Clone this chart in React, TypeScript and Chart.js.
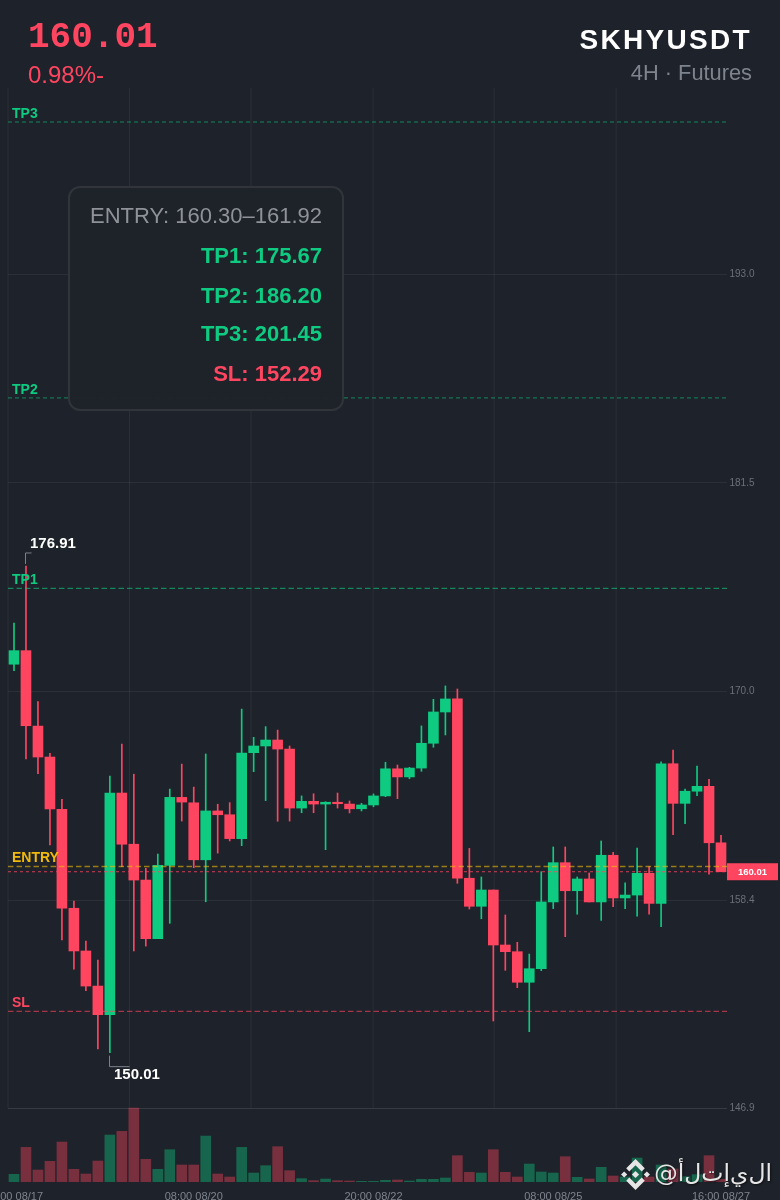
import React, { useEffect, useRef } from "react";
import { Chart, registerables } from "chart.js";

Chart.register(...registerables);

const opens = [
  171.48,172.23,168.06,166.35,163.46,157.99,155.63,153.69,152.11,164.36,
  161.53,159.55,156.31,160.36,164.12,163.82,160.67,163.37,163.16,161.84,
  166.59,166.96,167.29,166.79,163.53,163.90,163.75,163.85,163.75,163.49,
  163.70,164.20,165.70,165.25,165.74,167.11,168.84,169.56,159.65,158.10,
  159.00,155.96,155.59,153.90,154.65,158.34,160.51,158.96,159.61,158.34,
  160.92,158.56,158.72,159.92,158.26,165.98,163.79,164.46,164.73,161.61,
];
const closes = [
  172.23,168.08,166.35,163.48,157.99,155.63,153.69,152.11,164.36,161.53,
  159.55,156.31,160.36,164.12,163.86,160.67,163.37,163.16,161.84,166.57,
  166.96,167.29,166.79,163.53,163.90,163.75,163.85,163.77,163.49,163.70,
  164.20,165.70,165.25,165.74,167.11,168.84,169.56,159.65,158.10,159.00,
  155.96,155.59,153.90,154.65,158.34,160.51,158.96,159.61,158.34,160.92,
  158.56,158.72,159.92,158.26,165.98,163.79,164.46,164.73,161.61,160.01,
];
const highs = [
  173.76,176.91,169.41,166.56,164.01,158.39,156.18,155.13,165.30,167.07,
  165.40,160.20,160.99,164.58,165.96,164.69,166.52,163.74,163.83,169.00,
  167.44,168.03,167.84,166.96,164.20,164.32,163.88,164.36,163.92,163.79,
  164.31,166.06,165.91,165.78,168.07,169.54,170.28,170.11,161.30,159.72,
  159.00,157.62,156.11,155.46,160.01,161.38,161.38,159.72,159.94,161.71,
  161.08,159.39,161.32,160.29,166.08,166.74,164.58,165.85,165.12,162.02,
];
const lows = [
  171.12,166.24,165.43,161.49,156.24,154.63,153.43,150.21,150.01,160.29,
  155.63,155.90,156.31,157.16,162.81,160.23,158.35,161.04,161.71,161.45,
  165.54,163.94,162.80,162.81,163.27,163.27,161.23,163.53,163.26,163.37,
  163.60,164.16,164.05,165.15,165.56,166.89,167.57,159.37,157.95,157.41,
  151.76,154.56,153.60,151.17,154.54,157.97,156.42,157.66,158.34,157.32,
  158.08,157.97,157.56,157.67,156.97,162.06,162.66,164.21,159.87,160.01,
];
const volumes = [
  23,104,36,62,120,38,24,63,141,152,
  222,68,38,97,51,51,138,24,15,104,
  27,49,106,34,10,4,9,4,3,2,
  2,5,6,3,8,8,12,79,29,27,
  97,29,15,54,30,27,76,14,9,44,
  18,15,72,15,51,39,16,22,79,8,
];

const tickIndex = [0, 15, 30, 45, 59];
const tickLabels = ["20:00 08/17", "08:00 08/20", "20:00 08/22", "08:00 08/25", "16:00 08/27"];
const categories = opens.map((_, i) => {
  const k = tickIndex.indexOf(i);
  return k >= 0 ? tickLabels[k] : "";
});
const priceTicks = [146.93, 158.44, 169.98, 181.5, 193.03];
const gridStops = [-0.5, 9.64, 19.78, 29.97, 40.07, 50.25];

const levelNames = ["TP3", "TP2", "TP1", "ENTRY", "SL"];
const levelValues = [201.45, 186.2, 175.67, 160.3, 152.29];
const lastPrice = 160.01;
const infoLines = ["ENTRY: 160.30–161.92", "TP1: 175.67", "TP2: 186.20", "TP3: 201.45", "SL: 152.29"];
const watermark = "ا\u200Cل\u200Cي\u200Cإ\u200Cت\u200Cل\u200Cأ\u200C@";

const BG = "#1e222a";
const UP = "#0ecb81";
const DOWN = "#ff4560";
const GOLD = "#f0b90b";
const UP_VOL = "rgba(14,203,129,0.4)";
const DOWN_VOL = "rgba(255,69,96,0.4)";
const SANS = '"Liberation Sans", Arial, sans-serif';
const levelColor = (n: string) => (n === "SL" ? DOWN : n === "ENTRY" ? GOLD : UP);
const hexAlpha = (h: string, a: number) =>
  `rgba(${parseInt(h.slice(1, 3), 16)},${parseInt(h.slice(3, 5), 16)},${parseInt(h.slice(5, 7), 16)},${a})`;

const isUp = (i: number) => closes[i] >= opens[i];

const overlay = {
  id: "overlay",
  beforeDatasetsDraw(chart: any) {
    const { ctx, scales } = chart;
    ctx.save();
    ctx.strokeStyle = "rgba(255,255,255,0.06)";
    ctx.lineWidth = 1;
    const top = chart.chartArea.top;
    const bottom = scales.y.getPixelForValue(priceTicks[0]);
    scales.xGrid.ticks.forEach((t: any) => {
      const x = scales.xGrid.getPixelForValue(t.value);
      ctx.beginPath();
      ctx.moveTo(x, top);
      ctx.lineTo(x, bottom);
      ctx.stroke();
    });
    ctx.restore();
  },
  afterDatasetsDraw(chart: any) {
    const { ctx, scales } = chart;
    const x = scales.x;
    const y = scales.y;
    ctx.save();
    ctx.textBaseline = "alphabetic";
    ctx.textAlign = "left";
    ctx.font = `bold 14px ${SANS}`;
    levelNames.forEach((n, i) => {
      ctx.fillStyle = levelColor(n);
      ctx.fillText(n, 12, y.getPixelForValue(levelValues[i]) - 4);
    });

    const hi = highs.indexOf(Math.max(...highs));
    const lo = lows.indexOf(Math.min(...lows));
    ctx.strokeStyle = "#7d8187";
    ctx.lineWidth = 1;
    const hx = Math.round(x.getPixelForValue(hi)) - 0.5;
    const hy = y.getPixelForValue(highs[hi]);
    ctx.beginPath();
    ctx.moveTo(hx, hy - 2);
    ctx.lineTo(hx, hy - 13);
    ctx.lineTo(hx + 6, hy - 13);
    ctx.stroke();
    const lx = Math.round(x.getPixelForValue(lo)) - 0.5;
    const ly = y.getPixelForValue(lows[lo]);
    ctx.beginPath();
    ctx.moveTo(lx, ly + 3);
    ctx.lineTo(lx, ly + 14);
    ctx.lineTo(lx + 20, ly + 14);
    ctx.stroke();
    ctx.fillStyle = "#ffffff";
    ctx.font = `bold 15px ${SANS}`;
    ctx.fillText(highs[hi].toFixed(2), hx + 4.5, hy - 17.5);
    ctx.fillText(lows[lo].toFixed(2), lx + 4.5, ly + 26);

    const py = y.getPixelForValue(lastPrice);
    const right = chart.chartArea.right;
    ctx.fillStyle = DOWN;
    ctx.fillRect(right, py - 8.5, 51, 17);
    ctx.fillStyle = "#ffffff";
    ctx.font = `bold 9.5px ${SANS}`;
    ctx.textAlign = "center";
    ctx.textBaseline = "middle";
    ctx.fillText(lastPrice.toFixed(2), right + 25.5, py + 0.5);
    ctx.restore();
  },
};

export default function App() {
  const ref = useRef<HTMLCanvasElement>(null);

  useEffect(() => {
    const levelSets = levelNames.map((n, i) => {
      const heavy = n === "ENTRY" || n === "SL" || n === "TP1";
      return {
        type: "line" as const,
        xAxisID: "xGrid",
        yAxisID: "y",
        order: 1,
        data: [
          { x: -0.5, y: levelValues[i] },
          { x: 59.5, y: levelValues[i] },
        ],
        borderColor: hexAlpha(levelColor(n), 0.6),
        borderWidth: heavy ? 1.4 : 1,
        borderDash: heavy ? [5.5, 3] : [4, 3],
        pointRadius: 0,
      };
    });
    const chart = new Chart(ref.current as HTMLCanvasElement, {
      data: {
        labels: categories,
        datasets: [
          ...levelSets,
          {
            type: "line" as const,
            xAxisID: "xGrid",
            yAxisID: "y",
            order: 1,
            data: [
              { x: -0.5, y: lastPrice },
              { x: 59.5, y: lastPrice },
            ],
            borderColor: hexAlpha(DOWN, 0.8),
            borderWidth: 1,
            borderDash: [3, 3],
            pointRadius: 0,
          },
          {
            type: "bar" as const,
            xAxisID: "x",
            yAxisID: "y",
            order: 2,
            grouped: false,
            barThickness: 10,
            data: opens.map((o, i) => [o, closes[i]]),
            backgroundColor: opens.map((_, i) => (isUp(i) ? UP : DOWN)),
          },
          {
            type: "bar" as const,
            xAxisID: "x",
            yAxisID: "y",
            order: 3,
            grouped: false,
            barThickness: 1,
            data: lows.map((l, i) => [l, highs[i]]),
            backgroundColor: opens.map((_, i) => (isUp(i) ? UP : DOWN)),
          },
          {
            type: "bar" as const,
            xAxisID: "x",
            yAxisID: "y2",
            order: 4,
            grouped: false,
            barThickness: 10,
            data: volumes,
            backgroundColor: opens.map((_, i) => (isUp(i) ? UP_VOL : DOWN_VOL)),
          },
        ],
      } as any,
      options: {
        animation: false,
        responsive: false,
        devicePixelRatio: 1,
        layout: { padding: { left: 8, top: 88, right: 0, bottom: 0 } },
        plugins: { legend: { display: false }, tooltip: { enabled: false } },
        scales: {
          x: {
            type: "category",
            position: "bottom",
            offset: true,
            grid: { display: false },
            border: { display: false },
            ticks: {
              autoSkip: false,
              maxRotation: 0,
              minRotation: 0,
              padding: 0,
              color: "#7e848d",
              font: { family: SANS, size: 11 },
            },
            afterFit(s: any) {
              s.height = 18;
              s.paddingLeft = 0;
              s.paddingRight = 0;
            },
          },
          xGrid: {
            type: "linear",
            display: false,
            min: -0.5,
            max: 59.5,
            afterBuildTicks(s: any) {
              s.ticks = gridStops.map((value) => ({ value }));
            },
          },
          y: {
            type: "linear",
            position: "right",
            min: 142.86,
            max: 203.33,
            border: { display: false },
            grid: {
              color: (c: any) => (c.tick && c.tick.value === priceTicks[0] ? "rgba(255,255,255,0.11)" : "rgba(255,255,255,0.06)"),
              drawTicks: false,
            },
            afterBuildTicks(s: any) {
              s.ticks = priceTicks.map((value) => ({ value }));
            },
            ticks: {
              padding: 2.5,
              color: "#6b7078",
              font: { family: SANS, size: 10 },
              callback: (v: any) => Number(v).toFixed(1),
            },
            afterFit(s: any) {
              s.width = 53;
              s.paddingTop = 0;
              s.paddingBottom = 0;
            },
          },
          y2: {
            type: "linear",
            display: false,
            min: 0,
            max: 3285,
          },
        },
      } as any,
      plugins: [overlay],
    });
    return () => chart.destroy();
  }, []);

  const abs = (s: React.CSSProperties): React.CSSProperties => ({
    position: "absolute",
    whiteSpace: "nowrap",
    fontFamily: SANS,
    lineHeight: 1,
    ...s,
  });

  return (
    <div style={{ position: "absolute", left: 0, top: 0, width: 780, height: 1200, background: BG, overflow: "hidden" }}>
      <canvas ref={ref} width={780} height={1200} style={{ display: "block", position: "absolute", left: 0, top: 0 }} />
      <div style={abs({ left: 28, top: 20, fontFamily: '"Liberation Mono", monospace', fontWeight: 700, fontSize: 36, color: DOWN })}>
        160.01
      </div>
      <div style={abs({ left: 28, top: 63, fontSize: 24, color: DOWN })}>0.98%-</div>
      <div style={abs({ right: 28, top: 26, fontWeight: 700, fontSize: 28, letterSpacing: 2.3, color: "#ffffff" })}>SKHYUSDT</div>
      <div style={abs({ right: 28, top: 62, fontSize: 21.8, color: "#7e848d" })}>4H · Futures</div>
      <div
        style={{
          position: "absolute",
          left: 68,
          top: 186,
          width: 272,
          height: 221,
          border: "2px solid #31353b",
          borderRadius: 12,
          background: "rgba(30,34,42,0.96)",
        }}
      />
      {infoLines.map((t, i) => (
        <div
          key={t}
          style={abs({
            right: 780 - 322,
            top: [205, 245, 285, 323, 363][i],
            fontSize: 22,
            fontWeight: i === 0 ? 400 : 700,
            color: i === 0 ? "#8f9299" : i === 4 ? DOWN : UP,
          })}
        >
          {t}
        </div>
      ))}
      <svg style={{ position: "absolute", left: 619, top: 1158 }} width={33} height={33} viewBox="0 0 32 32">
        <g fill="#e6e6e6">
          <polygon points="16,12.5 19.5,16 16,19.5 12.5,16" />
          <polygon points="5,13 8,16 5,19 2,16" />
          <polygon points="27,13 30,16 27,19 24,16" />
          <polygon points="16,1 25,10 22,13 16,7 10,13 7,10" />
          <polygon points="16,31 25,22 22,19 16,25 10,19 7,22" />
        </g>
      </svg>
      <div
        dir="rtl"
        style={abs({
          right: 8,
          top: 1162,
          fontFamily: '"DejaVu Sans", sans-serif',
          fontSize: 23.5,
          color: "#e6e6e6",
          textShadow: "1px 1px 2px rgba(0,0,0,0.6)",
        })}
      >
        {watermark}
      </div>
    </div>
  );
}
